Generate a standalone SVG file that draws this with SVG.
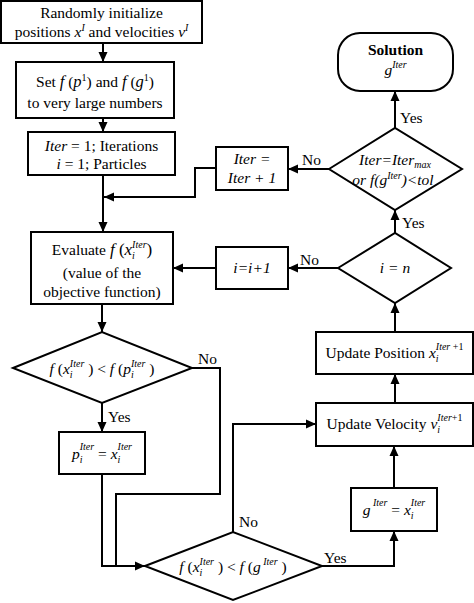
<svg xmlns="http://www.w3.org/2000/svg" width="474" height="603" viewBox="0 0 474 603">
<style>
.t{font-family:"Liberation Serif","Times New Roman",serif;font-size:15.5px;fill:#000}
.i{font-style:italic}
.s{font-size:10px}
.box{fill:#fff;stroke:#000;stroke-width:2}
.ln{fill:none;stroke:#000;stroke-width:2}
</style>
<defs>
<marker id="ah" markerUnits="userSpaceOnUse" markerWidth="10" markerHeight="10" refX="10" refY="5" orient="auto">
<path d="M0,0.5 L10,5 L0,9.5 z" fill="#000"/>
</marker>
</defs>
<rect width="474" height="603" fill="#fff"/>
<g font-family="Liberation Serif, serif">
<g id="connectors">
<path class="ln" d="M103,43 V62" marker-end="url(#ah)"/>
<path class="ln" d="M103,118 V132" marker-end="url(#ah)"/>
<path class="ln" d="M103,175 V232" marker-end="url(#ah)"/>
<path class="ln" d="M216,168 H195 V197 H104" marker-end="url(#ah)"/>
<path class="ln" d="M329,169 H288" marker-end="url(#ah)"/>
<path class="ln" d="M395,128 V91" marker-end="url(#ah)"/>
<path class="ln" d="M395,233 V210" marker-end="url(#ah)"/>
<path class="ln" d="M338,268 H288" marker-end="url(#ah)"/>
<path class="ln" d="M216,268 H173" marker-end="url(#ah)"/>
<path class="ln" d="M395,332 V303" marker-end="url(#ah)"/>
<path class="ln" d="M395,403 V374" marker-end="url(#ah)"/>
<path class="ln" d="M394,488 V446" marker-end="url(#ah)"/>
<path class="ln" d="M322,566 H394 V531" marker-end="url(#ah)"/>
<path class="ln" d="M233,532 V424 H316" marker-end="url(#ah)"/>
<path class="ln" d="M102,304 V332" marker-end="url(#ah)"/>
<path class="ln" d="M102,402 V432" marker-end="url(#ah)"/>
<path class="ln" d="M192,368 H220 V494 H116 V566"/>
<path class="ln" d="M102,474 V566 H145" marker-end="url(#ah)"/>
<text class="t" x="198" y="364">No</text>
<text class="t" x="108" y="422">Yes</text>
<text class="t" x="239" y="527">No</text>
<text class="t" x="324" y="563">Yes</text>
<text class="t" x="400" y="123">Yes</text>
<text class="t" x="402" y="228">Yes</text>
<text class="t" x="302" y="165">No</text>
<text class="t" x="300" y="265">No</text>
</g>
<g id="init">
<rect class="box" x="1" y="1" width="201" height="42"/>
<text class="t" x="101.5" y="18" text-anchor="middle">Randomly initialize</text>
<text class="t" x="101.5" y="37" text-anchor="middle">positions <tspan class="i">x</tspan><tspan class="i s" dy="-6">I</tspan><tspan dy="6"> and velocities </tspan><tspan class="i">v</tspan><tspan class="i s" dy="-6">I</tspan></text>
</g>
<g id="setf">
<rect class="box" x="16" y="62" width="158" height="56"/>
<text class="t" x="95" y="87" text-anchor="middle">Set <tspan class="i" font-size="16.5">f</tspan> (<tspan class="i" font-size="16.5">p</tspan><tspan class="s" dy="-6">1</tspan><tspan dy="6">) and  </tspan><tspan class="i" font-size="16.5">f</tspan> (<tspan class="i" font-size="16.5">g</tspan><tspan class="s" dy="-6">1</tspan><tspan dy="6">)</tspan></text>
<text class="t" x="95" y="108" text-anchor="middle">to very large numbers</text>
</g>
<g id="iterinit">
<rect class="box" x="28" y="132" width="147" height="43"/>
<text class="t" x="101.5" y="151" text-anchor="middle"><tspan class="i">Iter</tspan> = 1; Iterations</text>
<text class="t" x="101.5" y="169" text-anchor="middle"><tspan class="i">i</tspan> = 1; Particles</text>
</g>
<g id="evaluate">
<rect class="box" x="31" y="232" width="142" height="72"/>
<text class="t" x="102" y="255" text-anchor="middle">Evaluate  <tspan class="i" font-size="17">f</tspan><tspan font-size="17"> (</tspan><tspan class="i" font-size="17">x</tspan><tspan class="i s" dy="4">i</tspan><tspan class="i s" dx="-2.8" dy="-11">Iter</tspan><tspan font-size="17" dy="7">)</tspan></text>
<text class="t" x="102" y="278" text-anchor="middle">(value of the</text>
<text class="t" x="102" y="297" text-anchor="middle">objective function)</text>
</g>
<g id="cmp-p">
<polygon class="box" points="13,368 102,332 192,368 102,403"/>
<text class="t" x="102" y="374" text-anchor="middle" font-size="17"><tspan class="i">f</tspan> (<tspan class="i">x</tspan><tspan class="i s" dy="4">i</tspan><tspan class="i s" dx="-2.8" dy="-11">Iter</tspan><tspan dy="7"> ) &lt; </tspan><tspan class="i">f</tspan> (<tspan class="i">p</tspan><tspan class="i s" dy="4">i</tspan><tspan class="i s" dx="-2.8" dy="-11">Iter</tspan><tspan dy="7"> )</tspan></text>
</g>
<g id="pbest">
<rect class="box" x="59" y="432" width="86" height="42"/>
<text class="t" x="102" y="459" text-anchor="middle" font-size="19"><tspan class="i">p</tspan><tspan class="i s" dy="4">i</tspan><tspan class="i s" dx="-2.8" dy="-13">Iter</tspan><tspan dy="9"> = </tspan><tspan class="i">x</tspan><tspan class="i s" dy="4">i</tspan><tspan class="i s" dx="-2.8" dy="-13">Iter</tspan></text>
</g>
<g id="cmp-g">
<polygon class="box" points="145,566 233,532 322,566 233,600"/>
<text class="t" x="233" y="572" text-anchor="middle" font-size="17"><tspan class="i">f</tspan> (<tspan class="i">x</tspan><tspan class="i s" dy="4">i</tspan><tspan class="i s" dx="-2.8" dy="-11">Iter</tspan><tspan dy="7"> ) &lt; </tspan><tspan class="i">f</tspan> (<tspan class="i">g</tspan><tspan class="i s" dy="-7"> Iter</tspan><tspan dy="7"> )</tspan></text>
</g>
<g id="gbest">
<rect class="box" x="351" y="488" width="86" height="43"/>
<text class="t" x="394" y="515" text-anchor="middle" font-size="19"><tspan class="i">g</tspan><tspan class="i s" dy="-9"> Iter</tspan><tspan dy="9"> = </tspan><tspan class="i">x</tspan><tspan class="i s" dy="4">i</tspan><tspan class="i s" dx="-2.8" dy="-13">Iter</tspan></text>
</g>
<g id="velocity">
<rect class="box" x="316" y="403" width="157" height="43"/>
<text class="t" x="394.5" y="429" text-anchor="middle">Update Velocity <tspan class="i">v</tspan><tspan class="i s" dy="4">i</tspan><tspan class="s" dx="-2.8" dy="-12"><tspan class="i">Iter</tspan>+1</tspan></text>
</g>
<g id="position">
<rect class="box" x="316" y="332" width="157" height="42"/>
<text class="t" x="394.5" y="358" text-anchor="middle">Update Position <tspan class="i">x</tspan><tspan class="i s" dy="4">i</tspan><tspan class="s" dx="-2.8" dy="-12"><tspan class="i">Iter</tspan> +1</tspan></text>
</g>
<g id="check-n">
<polygon class="box" points="338,268 395,233 451,268 395,303"/>
<text class="t i" x="395" y="273" text-anchor="middle" font-size="16">i = n</text>
</g>
<g id="inc-i">
<rect class="box" x="216" y="247" width="72" height="42"/>
<text class="t i" x="252" y="273" text-anchor="middle" font-size="16">i=i+1</text>
</g>
<g id="check-stop">
<polygon class="box" points="329,169 395,128 462,169 395,210"/>
<text class="t i" x="395" y="165" text-anchor="middle">Iter=Iter<tspan class="s" dy="3">max</tspan></text>
<text class="t i" x="393" y="185" text-anchor="middle">or f(g<tspan class="s" dy="-6">Iter</tspan><tspan dy="6">)&lt;tol</tspan></text>
</g>
<g id="inc-iter">
<rect class="box" x="216" y="147" width="72" height="43"/>
<text class="t i" x="252" y="164" text-anchor="middle">Iter =</text>
<text class="t i" x="252" y="183" text-anchor="middle">Iter + 1</text>
</g>
<g id="solution">
<rect class="box" x="338" y="33" width="115" height="58" rx="22" ry="22"/>
<text class="t" x="395.5" y="55" text-anchor="middle" font-weight="bold">Solution</text>
<text class="t i" x="395.5" y="75" text-anchor="middle" font-size="17">g<tspan class="s" dy="-7">Iter</tspan></text>
</g>
</g>
</svg>
